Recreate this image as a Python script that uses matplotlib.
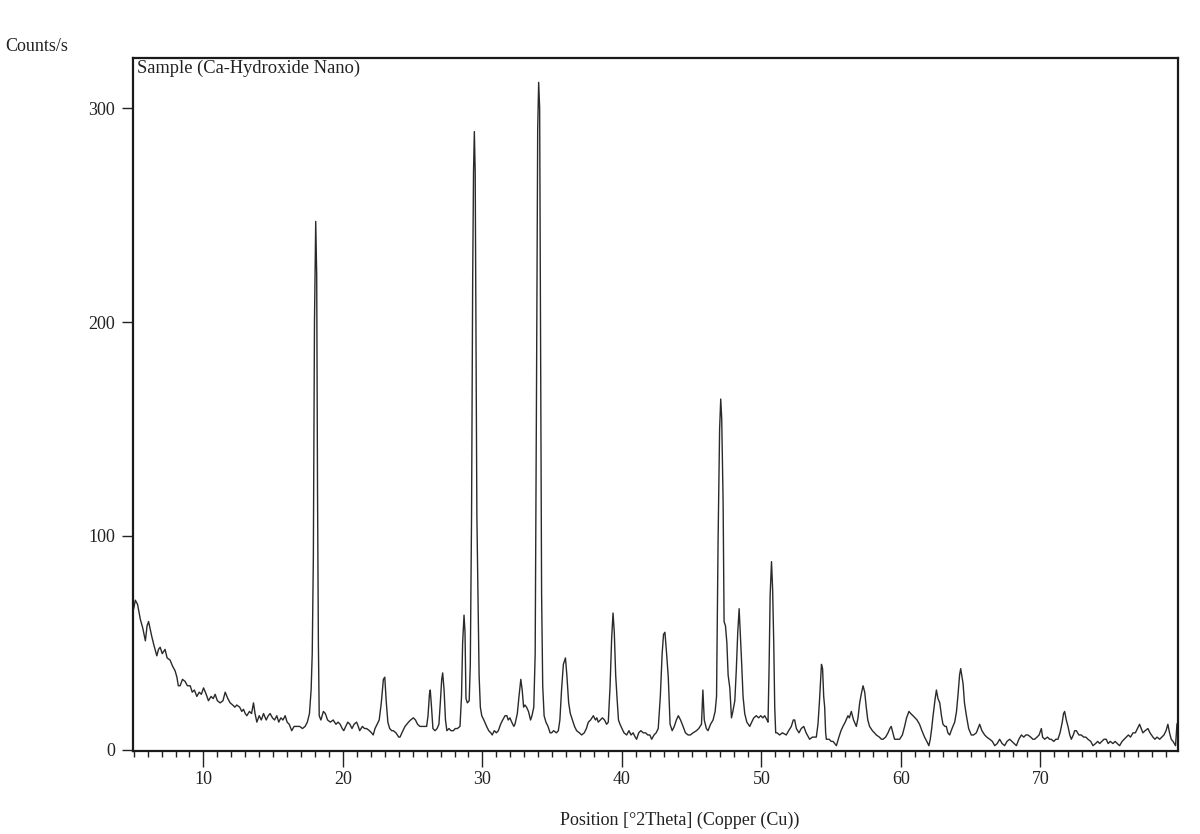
import matplotlib
matplotlib.use('Agg')
import matplotlib.pyplot as plt
from matplotlib.ticker import MultipleLocator

# XRD pattern, values (position in deg 2theta, counts/s)
two_theta = [
    5.0, 5.12, 5.28, 5.48, 5.65, 5.84, 5.96, 6.07, 6.2, 6.3, 6.45, 6.66, 6.78, 6.9, 7.05, 7.25,
    7.4, 7.61, 7.8, 7.97, 8.1, 8.2, 8.33, 8.5, 8.69, 8.85, 9.05, 9.2, 9.35, 9.53, 9.7, 9.85,
    10.01, 10.2, 10.36, 10.55, 10.7, 10.84, 11.0, 11.2, 11.4, 11.56, 11.75, 11.92, 12.1, 12.25,
    12.39, 12.6, 12.75, 12.87, 13.0, 13.11, 13.3, 13.45, 13.59, 13.7, 13.83, 14.0, 14.15, 14.31,
    14.5, 14.65, 14.78, 14.95, 15.1, 15.26, 15.4, 15.55, 15.7, 15.86, 16.0, 16.15, 16.33, 16.5,
    16.69, 16.9, 17.1, 17.29, 17.45, 17.6, 17.72, 17.8, 17.88, 17.96, 18.05, 18.12, 18.18, 18.24,
    18.3, 18.42, 18.6, 18.74, 18.9, 19.1, 19.3, 19.5, 19.65, 19.8, 19.95, 20.06, 20.2, 20.35,
    20.5, 20.65, 20.8, 20.98, 21.1, 21.2, 21.4, 21.55, 21.7, 21.9, 22.05, 22.17, 22.3, 22.45,
    22.6, 22.75, 22.9, 23.0, 23.1, 23.22, 23.35, 23.5, 23.61, 23.8, 24.0, 24.09, 24.3, 24.45,
    24.57, 24.7, 24.85, 25.05, 25.2, 25.35, 25.52, 25.7, 25.85, 26.0, 26.1, 26.2, 26.26, 26.35,
    26.45, 26.6, 26.75, 26.88, 26.98, 27.08, 27.15, 27.25, 27.35, 27.45, 27.6, 27.75, 27.91,
    28.05, 28.2, 28.39, 28.5, 28.58, 28.68, 28.75, 28.82, 28.92, 29.05, 29.13, 29.22, 29.3,
    29.36, 29.42, 29.48, 29.54, 29.6, 29.68, 29.76, 29.85, 29.95, 30.1, 30.3, 30.45, 30.6, 30.7,
    30.85, 31.0, 31.14, 31.3, 31.45, 31.62, 31.75, 31.85, 31.97, 32.1, 32.25, 32.33, 32.5,
    32.62, 32.75, 32.85, 32.95, 33.05, 33.16, 33.3, 33.45, 33.55, 33.68, 33.78, 33.88, 33.96,
    34.03, 34.1, 34.17, 34.24, 34.32, 34.42, 34.55, 34.7, 34.85, 34.96, 35.1, 35.3, 35.44,
    35.55, 35.67, 35.8, 35.95, 36.05, 36.18, 36.3, 36.45, 36.6, 36.75, 36.95, 37.11, 37.3,
    37.45, 37.59, 37.75, 37.95, 38.1, 38.2, 38.3, 38.45, 38.6, 38.75, 38.9, 39.02, 39.15,
    39.26, 39.36, 39.45, 39.55, 39.65, 39.75, 39.86, 40.0, 40.15, 40.34, 40.5, 40.65, 40.8,
    40.95, 41.05, 41.2, 41.35, 41.53, 41.7, 41.85, 42.0, 42.13, 42.3, 42.45, 42.6, 42.75,
    42.88, 42.98, 43.08, 43.2, 43.32, 43.45, 43.6, 43.75, 43.9, 44.04, 44.2, 44.38, 44.55,
    44.74, 44.9, 45.1, 45.34, 45.5, 45.7, 45.8, 45.9, 46.05, 46.17, 46.35, 46.53, 46.68, 46.78,
    46.89, 47.0, 47.08, 47.15, 47.25, 47.32, 47.42, 47.52, 47.61, 47.73, 47.85, 47.95, 48.09,
    48.2, 48.3, 48.4, 48.48, 48.57, 48.68, 48.8, 48.95, 49.16, 49.3, 49.45, 49.63, 49.8, 49.95,
    50.1, 50.23, 50.4, 50.47, 50.55, 50.62, 50.72, 50.8, 50.88, 50.95, 51.02, 51.12, 51.3,
    51.5, 51.78, 51.95, 52.14, 52.28, 52.38, 52.5, 52.69, 52.85, 53.03, 53.2, 53.45, 53.65,
    53.93, 54.05, 54.15, 54.22, 54.3, 54.38, 54.46, 54.53, 54.6, 54.65, 54.85, 55.0, 55.13,
    55.25, 55.37, 55.55, 55.7, 55.84, 56.0, 56.2, 56.3, 56.44, 56.6, 56.8, 56.92, 57.04, 57.15,
    57.28, 57.4, 57.51, 57.62, 57.75, 57.95, 58.1, 58.23, 58.45, 58.6, 58.71, 58.9, 59.07,
    59.2, 59.3, 59.42, 59.54, 59.7, 59.9, 60.1, 60.26, 60.4, 60.57, 60.7, 60.86, 61.0, 61.15,
    61.33, 61.5, 61.69, 61.85, 62.0, 62.1, 62.2, 62.3, 62.45, 62.54, 62.65, 62.78, 62.9, 63.01,
    63.15, 63.25, 63.36, 63.49, 63.6, 63.72, 63.85, 63.98, 64.09, 64.2, 64.28, 64.38, 64.45,
    64.55, 64.69, 64.85, 65.04, 65.2, 65.4, 65.52, 65.64, 65.8, 66.0, 66.15, 66.36, 66.55,
    66.72, 66.9, 67.07, 67.25, 67.43, 67.6, 67.79, 67.95, 68.1, 68.27, 68.45, 68.63, 68.8,
    68.95, 69.1, 69.3, 69.45, 69.58, 69.75, 69.9, 70.06, 70.15, 70.3, 70.5, 70.65, 70.77,
    70.95, 71.1, 71.25, 71.4, 71.56, 71.65, 71.73, 71.85, 71.97, 72.1, 72.21, 72.35, 72.45,
    72.57, 72.75, 72.92, 73.1, 73.25, 73.4, 73.6, 73.76, 73.95, 74.1, 74.24, 74.4, 74.55,
    74.71, 74.85, 75.0, 75.19, 75.35, 75.5, 75.67, 75.85, 76.0, 76.15, 76.3, 76.45, 76.63,
    76.8, 76.95, 77.1, 77.22, 77.34, 77.5, 77.7, 77.85, 78.06, 78.2, 78.35, 78.54, 78.7, 78.85,
    79.0, 79.13, 79.25, 79.37, 79.5, 79.68, 79.78, 79.85,
]
counts = [
    66, 70, 68, 61, 57, 51, 58, 60, 56, 53, 49, 44, 47, 48, 45, 47,
    43, 42, 39, 37, 34, 30, 30, 33, 32, 30, 30, 27, 28, 25, 27, 26,
    29, 26, 23, 25, 24, 26, 23, 22, 23, 27, 24, 22, 21, 20,
    21, 20, 18, 19, 17, 16, 18, 17, 22, 17, 13, 16, 14, 17,
    14, 16, 17, 15, 14, 16, 13, 15, 14, 16, 13, 12, 9, 11,
    11, 11, 10, 11, 13, 17, 28, 45, 90, 200, 247, 222, 120, 50,
    16, 14, 18, 17, 14, 13, 14, 12, 13, 12, 10, 9, 11, 13,
    12, 10, 12, 13, 11, 9, 11, 10, 10, 9, 8, 7, 10, 12,
    14, 22, 33, 34, 23, 13, 10, 9, 9, 8, 6, 6, 9, 11,
    12, 13, 14, 15, 14, 12, 11, 11, 11, 11, 16, 26, 28, 20,
    10, 9, 10, 12, 22, 33, 36, 28, 14, 9, 10, 9, 9,
    10, 10, 11, 25, 50, 63, 55, 24, 22, 23, 40, 110, 220,
    270, 289, 270, 190, 110, 71, 35, 20, 16, 14, 11, 9, 8, 7,
    9, 8, 9, 12, 14, 16, 16, 14, 15, 13, 11, 12, 17,
    25, 33, 28, 20, 21, 20, 18, 14, 16, 20, 45, 175, 290,
    312, 300, 180, 73, 30, 16, 13, 11, 8, 8, 9, 8, 9,
    14, 28, 40, 43, 35, 22, 17, 14, 11, 9, 8, 7, 8,
    10, 13, 14, 16, 14, 15, 13, 14, 15, 14, 12, 13, 30,
    52, 64, 55, 35, 24, 14, 12, 10, 8, 7, 9, 7, 8,
    6, 5, 8, 9, 8, 8, 7, 7, 5, 7, 8, 10, 25,
    45, 54, 55, 45, 34, 12, 9, 11, 14, 16, 14, 11, 8,
    7, 7, 8, 9, 10, 12, 28, 14, 10, 9, 12, 14, 18, 25,
    98, 150, 164, 155, 116, 60, 58, 50, 35, 29, 15, 18, 23,
    38, 55, 66, 55, 42, 25, 17, 13, 11, 13, 15, 16, 15, 16,
    15, 16, 14, 13, 40, 72, 88, 75, 50, 20, 8, 8, 7,
    8, 7, 9, 11, 14, 14, 10, 8, 10, 11, 8, 5, 6,
    6, 12, 22, 30, 40, 38, 25, 20, 8, 5, 5, 4, 4,
    3, 2, 6, 9, 11, 13, 16, 15, 18, 14, 11, 15, 22, 26,
    30, 27, 20, 14, 11, 9, 8, 7, 6, 5, 5, 6, 8,
    10, 11, 8, 5, 5, 5, 7, 11, 15, 18, 17, 16, 15, 14,
    12, 9, 6, 4, 2, 5, 10, 16, 24, 28, 24, 22, 16, 12,
    11, 11, 8, 7, 9, 11, 13, 18, 26, 35, 38, 34, 31,
    22, 16, 10, 7, 7, 8, 10, 12, 9, 7, 6, 5, 4,
    2, 3, 5, 3, 2, 4, 5, 4, 3, 2, 5, 7, 6,
    7, 7, 6, 5, 5, 6, 7, 10, 6, 5, 6, 5, 5,
    4, 5, 5, 8, 13, 17, 18, 14, 11, 7, 5, 7, 9,
    9, 7, 7, 6, 6, 5, 4, 2, 3, 4, 3, 4, 5,
    5, 3, 4, 3, 4, 3, 2, 4, 5, 6, 7, 6, 8,
    8, 10, 12, 10, 8, 9, 10, 8, 6, 5, 6, 5, 6, 7,
    9, 12, 8, 5, 4, 2, 12, 13,
]

y_ticks = [0, 100, 200, 300]
x_ticks = [10, 20, 30, 40, 50, 60, 70]

plt.rcParams['font.family'] = ['Liberation Serif', 'DejaVu Serif']

fig = plt.figure(figsize=(12, 8.34), dpi=100)
ax = fig.add_axes([0.1108, 0.0995, 0.8708, 0.831])

ax.plot(two_theta, counts, color='#2a2a2a', lw=1.0)

ax.set_xlim(4.95, 79.85)
ax.set_ylim(-0.5, 323.4)
ax.set_xticks(x_ticks)
ax.set_yticks(y_ticks)
ax.xaxis.set_minor_locator(MultipleLocator(1))
ax.tick_params(axis='x', which='major', direction='out', length=11.5, width=1.0,
               pad=3, labelsize=13, colors='#222222')
ax.tick_params(axis='x', which='minor', direction='out', length=4.3, width=1.0,
               colors='#222222')
ax.tick_params(axis='y', which='major', direction='out', length=8, width=1.0,
               pad=5, labelsize=13, colors='#222222')
for s in ax.spines.values():
    s.set_linewidth(1.6)
    s.set_color('#1a1a1a')

fig.text(0.004, 0.944, 'Counts/s', fontsize=13, color='#222222', va='center', ha='left')
fig.text(0.114, 0.918, 'Sample (Ca-Hydroxide Nano)', fontsize=13.3, color='#222222',
         va='center', ha='left')
fig.text(0.566, 0.016, 'Position [°2Theta] (Copper (Cu))', fontsize=13, color='#222222',
         va='center', ha='center')

fig.savefig('out.png', dpi=100)
